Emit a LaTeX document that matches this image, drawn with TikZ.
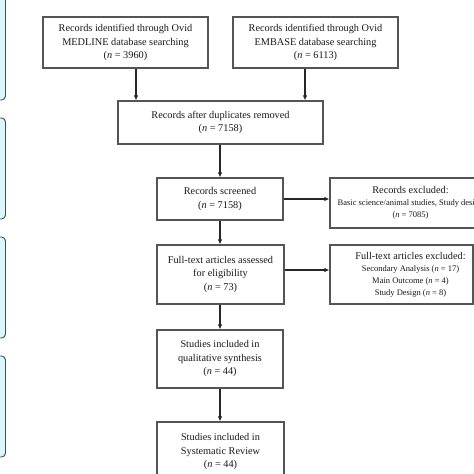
\documentclass[tikz,border=0pt]{standalone}
\usepackage{fontspec}
\setmainfont{Liberation Serif}
\usetikzlibrary{arrows.meta}
\definecolor{sidefill}{HTML}{DDF6FA}
\definecolor{sideline}{HTML}{34505C}
\definecolor{boxline}{HTML}{555555}
\newcommand{\mainsz}{\fontsize{10.3}{13.5}\selectfont}
\newcommand{\subsz}{\fontsize{8.5}{10.5}\selectfont}
\begin{document}
\begin{tikzpicture}[x=1pt,y=-1pt,
  box/.style={draw=boxline, line width=1.2pt, fill=white, align=center, inner sep=0pt, font=\mainsz, text=black!90},
  txt/.style={align=center, inner sep=0pt, text=black!90},
  arr/.style={-{Latex[length=5pt,width=4.5pt]}, line width=1.1pt, draw=black!85},
  side/.style={draw=sideline, fill=sidefill, rounded corners=4pt, line width=0.9pt}]
\useasboundingbox (0,0) rectangle (474,474);
\clip (0,0) rectangle (474,474);
% side bands
\draw[side] (-10,-10) rectangle (5.5,100);
\draw[side] (-10,118) rectangle (5.5,219);
\draw[side] (-10,237) rectangle (5.5,338);
\draw[side] (-10,356) rectangle (5.5,457);
% boxes
\node[box, minimum width=165pt, minimum height=51pt] (A) at (125.5,42.5)
  {Records identified through Ovid\\MEDLINE database searching\\(\textit{n} = 3960)};
\node[box, minimum width=165pt, minimum height=51pt] (B) at (315.5,42.5)
  {Records identified through Ovid\\EMBASE database searching\\(\textit{n} = 6113)};
\node[box, minimum width=205pt, minimum height=43pt] (C) at (220.5,122.5)
  {Records after duplicates removed\\(\textit{n} = 7158)};
\node[box, minimum width=126pt, minimum height=42pt] (D) at (220,199)
  {Records screened\\(\textit{n} = 7158)};
\node[box, minimum width=170pt, minimum height=50pt] (E) at (415,203) {};
\node[txt] (Et) at (410.5,203)
  {{\mainsz Records excluded:}\\{\subsz Basic science/animal studies, Study design}\\{\subsz(\textit{n} = 7085)}};
\node[box, minimum width=127pt, minimum height=59pt] (F) at (220.5,274.5)
  {Full-text articles assessed\\for eligibility\\(\textit{n} = 73)};
\node[box, minimum width=143pt, minimum height=59pt] (G) at (401.5,274.5) {};
\node[txt] (Gt) at (410.5,275)
  {{\mainsz Full-text articles excluded:}\\{\subsz Secondary Analysis (\textit{n} = 17)}\\{\subsz Main Outcome (\textit{n} = 4)}\\{\subsz Study Design (\textit{n} = 8)}};
\node[box, minimum width=126pt, minimum height=58pt] (H) at (220,359)
  {Studies included in\\qualitative synthesis\\(\textit{n} = 44)};
\node[box, minimum width=127pt, minimum height=60pt] (I) at (220.5,452)
  {Studies included in\\Systematic Review\\(\textit{n} = 44)};
% connectors
\draw[arr] ([xshift=10.5pt]A.south) -- ([xshift=10.5pt]A.south |- C.north);
\draw[arr] ([xshift=-10.5pt]B.south) -- ([xshift=-10.5pt]B.south |- C.north);
\draw[arr] (C.south -| D.north) -- (D.north);
\draw[arr] (D.east) -- (D.east -| E.west);
\draw[arr] ([yshift=4.5pt]F.east) -- ([yshift=4.5pt]F.east -| G.west);
\draw[arr] (D.south) -- (F.north -| D.south);
\draw[arr] (F.south -| H.north) -- (H.north);
\draw[arr] (H.south) -- (I.north -| H.south);
\end{tikzpicture}
\end{document}
